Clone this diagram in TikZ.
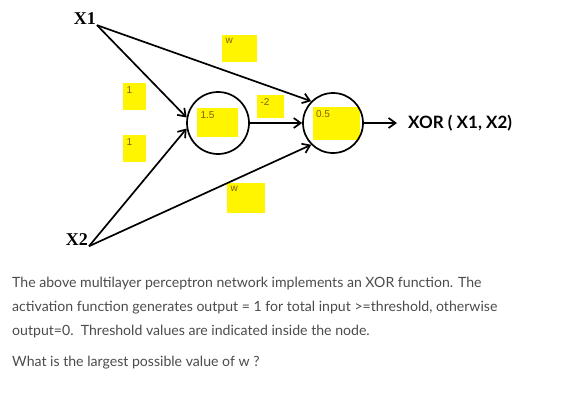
\documentclass[tikz,border=0pt]{standalone}
\usepackage{fontspec}
\usepackage{xcolor}
\usepackage{tikz}
\usetikzlibrary{arrows.meta, positioning}
\newfontfamily\parafont{Lato}
\newfontfamily\xlabelfont{Liberation Serif}
\newfontfamily\notefont{Liberation Sans}
\definecolor{notegold}{RGB}{255,245,0}
\definecolor{noteink}{RGB}{125,95,10}
\definecolor{paragray}{RGB}{75,75,75}
\tikzset{
  neuron/.style={circle,draw=black,line width=1.7pt,minimum size=60pt,inner sep=0pt},
  wbox/.style={rectangle,fill=notegold,inner sep=0pt},
  wtext/.style={font=\notefont\fontsize{10}{11}\selectfont,text=noteink,inner sep=3.5pt},
  link/.style={line width=1.7pt,-{Straight Barb[length=7pt,width=10pt,line width=1.7pt]}},
  inp/.style={font=\xlabelfont\bfseries\fontsize{18}{20}\selectfont,inner sep=1pt},
  para/.style={font=\parafont\fontsize{14.1}{16}\selectfont,text=paragray,anchor=base west,inner sep=0pt}
}

\begin{document}
\begin{tikzpicture}[x=1pt,y=-1pt]
    \useasboundingbox (0,0) rectangle (578,405);
    % weight notes
    \node[wbox,minimum width=35,minimum height=27,
          label={[wtext,anchor=north west]north west:w}] (wtop) at (239.5,48.5) {};
    \node[wbox,minimum width=23,minimum height=27,
          label={[wtext,anchor=north west]north west:1}] (oneA) at (134.5,96.5) {};
    \node[wbox,minimum width=23,minimum height=27,
          label={[wtext,anchor=north west]north west:1}] (oneB) at (134.5,148.5) {};
    \node[wbox,minimum width=27,minimum height=23,
          label={[wtext,anchor=north west]north west:-2}] (mtwo) at (270.5,106.5) {};
    \node[wbox,minimum width=38,minimum height=30,
          label={[wtext,anchor=north west]north west:w}] (wbot) at (246,198) {};
    \node[wbox,minimum width=41,minimum height=29,
          label={[wtext,anchor=north west]north west:1.5}] (tha) at (217.5,122.5) {};
    \node[wbox,minimum width=47,minimum height=33,
          label={[wtext,anchor=north west]north west:0.5}] (thb) at (336,123.5) {};
    % neurons
    \node[neuron,minimum size=62pt] (hid) at (218,123) {};
    \node[neuron] (out) at (333,123) {};
    \node[inp,anchor=base east] (X1) at (97,24) {X1};
    \node[inp,anchor=base east] (X2) at (89,245) {X2};
    \node[font=\parafont\bfseries\fontsize{17}{19}\selectfont,anchor=west,inner sep=2pt] (xor) at (406,123) {XOR ( X1, X2)};
    % connections
    \draw[link] (X1.south east) -- (hid.170);
    \draw[link] (X1.south east) -- (out.135);
    \draw[link] (X2.south east) -- (hid.190);
    \draw[link] (X2.south east) -- (out.225);
    \draw[link] (hid) -- (out);
    \draw[link,shorten >=9pt] (out) -- (xor);
    % question text
    \node[para] (p1) at (12,287) {The above multilayer perceptron network implements an XOR function. The};
    \node[para] (p2) at (12,311) {activation function generates output = 1 for total input >=threshold, otherwise};
    \node[para] (p3) at (12,335) {output=0.\ \ Threshold values are indicated inside the node.};
    \node[para] (q) at (12,366) {What is the largest possible value of w ?};
  \end{tikzpicture}
\end{document}
